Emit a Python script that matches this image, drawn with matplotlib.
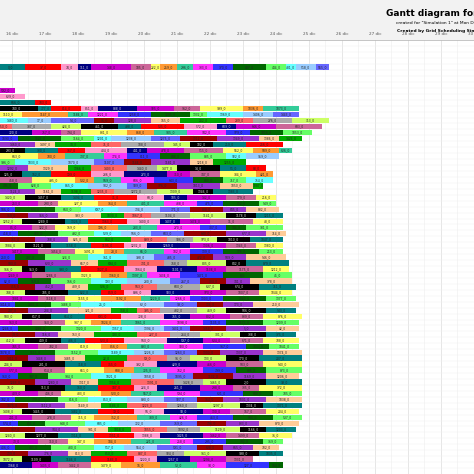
import matplotlib
matplotlib.use("Agg")
import matplotlib.pyplot as plt
from matplotlib.patches import Rectangle

day_ticks = list(range(16, 31))
day_labels = [f"{d} dic" for d in day_ticks]
start_day = 15.5
# each row: list of task durations in days (consecutive); empty = idle machine
rows = [
 [], [], [], [],
 [0.9,1.1,0.5,0.4,1.2,0.6,0.3,0.5,0.5,0.6,0.6,1.0,0.6,0.3,0.6,0.4],
 [], [], [],
 [0.6], [0.9], [1.2,0.5],
 [1.3,0.4,0.9,0.5,1.2,1.1,0.8,1.3,0.6,1.1],
 [0.8,1.4,0.6,0.9,1.0,1.2,0.5,1.1,0.9,0.8],
 [1.0,0.7,1.3,0.6,1.1,0.9,1.4,0.8,1.2,1.1],
 [0.5,1.2,0.9,1.1,0.7,1.3,1.0,0.6,1.2,1.4],
 [1.1,0.9,0.6,1.4,0.8,1.0,1.2,0.7,1.0,0.9],
 [0.7,1.3,1.0,0.5,1.2,0.9,1.1,1.3,0.6,0.7],
 [1.2,0.6,1.1,0.9,1.3,0.8,0.7,1.0,1.1],
 [0.9,1.0,0.8,1.3,0.6,1.1,1.2,0.9,0.8,0.4],
 [1.3,0.8,1.2,0.7,1.0,0.9,1.1,0.6,1.0],
 [0.6,1.1,1.3,0.9,0.8,1.2,0.7,1.0],
 [1.0,1.2,0.7,1.1,0.9,0.6,1.3,0.8,0.6],
 [0.8,0.9,1.2,1.0,1.3,0.7,0.9,1.1,0.5],
 [1.1,1.3,0.6,0.8,1.0,1.2,0.9,0.7,0.8],
 [0.7,1.0,1.1,1.2,0.6,0.9,1.3,1.0,0.3],
 [1.2,0.8,0.9,0.7,1.3,1.1,0.6,1.2],
 [0.9,1.1,1.0,1.3,0.8,0.7,1.2,0.9,0.6],
 [1.3,0.6,1.2,0.9,1.1,1.0,0.8,1.1,0.5],
 [0.6,1.2,0.8,1.1,1.3,0.9,1.0,0.7,1.0],
 [1.0,0.9,1.3,0.7,0.8,1.2,1.1,0.9,0.8],
 [0.8,1.3,0.7,1.2,1.0,0.6,0.9,1.3,0.9],
 [1.1,0.7,1.0,0.9,1.2,1.3,0.8,0.6,1.1],
 [0.7,1.2,1.1,0.8,0.9,1.0,1.3,1.2,0.6],
 [1.2,1.0,0.6,1.3,1.1,0.8,0.7,1.0,1.0],
 [0.9,0.8,1.2,1.0,0.7,1.3,1.1,0.9,0.8],
 [1.3,1.1,0.9,0.6,1.2,0.8,1.0,1.1,0.7],
 [0.6,0.9,1.3,1.2,0.8,1.1,0.7,1.0,1.2],
 [1.0,1.3,0.8,0.9,1.1,0.7,1.2,0.6,1.3],
 [0.8,0.7,1.1,1.3,1.0,1.2,0.9,1.1,0.8],
 [1.1,1.2,0.9,0.8,0.6,1.0,1.3,1.2,0.9],
 [0.7,1.0,1.2,1.1,1.3,0.9,0.8,0.7,1.3],
 [1.2,0.9,0.7,1.0,1.1,1.3,0.6,1.2,1.1],
 [0.9,1.3,1.0,0.7,0.8,1.2,1.1,1.0,1.0],
 [1.3,0.8,1.1,1.2,0.9,0.6,1.0,1.3,0.9],
 [0.6,1.1,0.9,1.3,1.2,1.0,0.8,0.9,1.4],
 [1.0,1.2,1.3,0.8,0.7,1.1,0.9,1.2,0.9],
 [0.8,0.9,1.0,1.1,1.3,0.8,1.2,1.0,1.2],
 [1.1,1.0,0.8,0.9,1.2,1.3,0.7,1.1,1.1],
 [0.7,1.3,1.2,1.0,0.9,0.8,1.1,1.2,1.0],
 [1.2,0.7,1.1,1.3,1.0,0.9,1.2,0.8,0.9],
 [0.9,1.1,0.7,1.2,1.3,1.1,0.8,1.0,1.1],
 [1.3,0.9,1.0,0.8,1.1,1.2,1.3,0.7,0.9],
 [0.6,1.2,1.3,1.1,0.9,1.0,0.7,1.3,1.2],
 [1.0,0.8,0.9,1.3,1.2,0.7,1.1,1.0,1.3],
 [0.8,1.3,1.1,0.7,1.0,1.2,0.9,1.1,1.2],
 [1.1,1.0,1.2,0.9,0.8,1.3,1.0,0.9,1.1],
 [0.7,0.9,1.3,1.2,1.1,0.8,1.2,1.0,1.0],
 [1.2,1.1,0.8,1.0,1.3,0.9,0.7,1.2,1.1],
 [0.9,1.2,1.0,1.1,0.7,1.3,1.0,0.8,1.3],
 [1.3,0.7,1.2,0.9,1.0,1.1,1.3,0.9,0.9],
 [0.6,1.3,0.9,1.2,1.1,1.0,0.8,1.3,1.1],
 [1.0,1.1,1.1,0.8,1.2,0.9,1.3,0.7,1.2],
 [0.8,1.0,1.3,1.1,0.9,1.2,0.8,1.1,1.0],
 [1.1,1.2,0.7,1.3,1.0,0.8,1.1,1.2,0.9],
 [0.7,0.8,1.2,1.0,1.3,1.1,0.9,1.0,1.2],
 [1.2,1.3,0.9,0.7,1.1,1.0,1.2,0.8,0.9],
 [0.9,1.0,1.1,1.2,0.8,1.3,0.7,1.0,1.0],
 [1.3,0.9,0.8,1.1,1.2,0.7,1.0,1.1,0.6],
 [0.6,1.1,1.3,0.9,1.0,1.2,0.8,0.9,0.8],
 [1.0,1.2,0.7,1.1,0.9,0.8,1.3,1.0,0.7],
 [0.8,0.9,1.2,1.3,0.7,1.0,1.1,0.8],
 [1.1,0.8,1.0,0.9,1.2,1.1,0.9,1.3,0.4],
]

palette = ["#66ff66", "#00aa00", "#ff99cc", "#ff33ff", "#990000", "#000000",
           "#ffff66", "#66ffff", "#ff6666", "#000080", "#3333ff", "#9933cc",
           "#008080", "#ff9933", "#99ccff", "#aaaaaa", "#cc00cc", "#006600",
           "#ffcc99", "#ff0000", "#33cc99", "#6666ff", "#ccff66", "#cc6699"]

fig = plt.figure(figsize=(4.74, 4.74), dpi=100)
fig.patch.set_facecolor("#f2f2f2")
ax = fig.add_axes([0, 0, 1, 0.915])
ax.set_facecolor("white")
nrows = len(rows)
ax.set_xlim(15.64, 30.0)
ax.set_ylim(nrows + 0.5, -0.5)
for d in day_ticks:
    ax.axvline(d, color="#e2e2e2", lw=0.6, zorder=0)
    ax.axvline(d + 0.5, color="#eeeeee", lw=0.4, zorder=0)
for r in range(nrows):
    ax.axhline(r + 0.5, color="#f0f0f0", lw=0.3, zorder=0)

k = 0
for r, durs in enumerate(rows):
    x = start_day
    for j, d in enumerate(durs):
        c = palette[(k * 7 + r * 3) % len(palette)]
        ax.add_patch(Rectangle((x, r - 0.45), d, 0.9, facecolor=c, edgecolor="none", zorder=2))
        ax.text(x + d / 2, r, f"{(k * 37) % 1500}_0", fontsize=2.2, ha="center", va="center",
                color="#222222" if c not in ("#000000", "#000080") else "#dddddd", zorder=3)
        x += d
        k += 1

ax.xaxis.tick_top()
ax.set_xticks(day_ticks)
ax.set_xticklabels(day_labels, fontsize=3, color="#555555")
ax.tick_params(axis="x", length=0, pad=3)
ax.set_yticks([])
for s in ax.spines.values():
    s.set_visible(False)
ax.spines["top"].set_visible(True)
ax.spines["top"].set_color("#bbbbbb")
ax.spines["top"].set_linewidth(0.6)

fig.text(0.815, 0.972, "Gantt diagram for Grid Scheduling", fontsize=6.5, fontweight="bold", ha="left", va="center")
fig.text(0.835, 0.952, "created for \"Simulation 1\" at Mon Dec", fontsize=3.2, ha="left", va="center")
fig.text(0.838, 0.934, "Created by Grid Scheduling Simulator", fontsize=3.2, fontweight="bold", ha="left", va="center")
fig.savefig("out.png", dpi=100)
